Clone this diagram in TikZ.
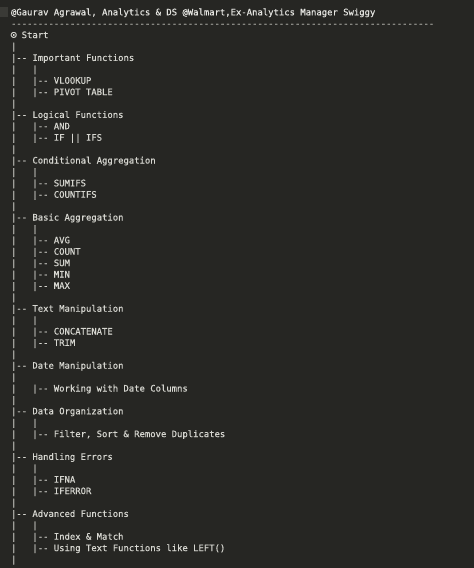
\documentclass[tikz,border=0pt]{standalone}
\usepackage{fontspec}
\setmonofont{DejaVu Sans Mono}[FakeBold=0.4]
\definecolor{bg}{HTML}{262623}
\definecolor{gutter}{HTML}{3A3A36}
\definecolor{txt}{HTML}{D6D6D0}
\definecolor{hdr}{HTML}{E4E4E0}
\definecolor{dash}{HTML}{B0B0AA}
\tikzset{
  tt/.style={anchor=base west, inner sep=0pt, outer sep=0pt, text=txt,
    font=\ttfamily\fontsize{8.9}{11}\selectfont},
}
\newcommand\tl[3]{\node[tt] (r#1c#2) at ({11+#2*5.35},{12+(#1-1)*11.4+3.3}) {#3};}
\begin{document}
\begin{tikzpicture}[x=1pt,y=-1pt]
\fill[bg] (0,0) rectangle (474,568);
\useasboundingbox (0,0) rectangle (474,568);
\fill[gutter] (0,7) rectangle (7.5,17);
\node[tt,text=hdr] (r1c0) at (11,{12+3.3}) {@Gaurav Agrawal, Analytics \& DS @Walmart,Ex-Analytics Manager Swiggy};
\node[tt,text=dash] (r2c0) at (11,{23.4+3.3}) {-------------------------------------------------------------------------------};
\node[tt,font=\ttfamily\fontsize{11}{11}\selectfont] (r3sym) at (10.4,{12+2*11.4+3.6}) {⊙};
\tl{3}{2}{Start}
\tl{4}{0}{|}
\tl{5}{0}{|-- Important Functions}
\tl{6}{0}{|}\tl{6}{4}{|}
\tl{7}{0}{|}\tl{7}{4}{|-- VLOOKUP}
\tl{8}{0}{|}\tl{8}{4}{|-- PIVOT TABLE}
\tl{9}{0}{|}
\tl{10}{0}{|-- Logical Functions}
\tl{11}{0}{|}\tl{11}{4}{|-- AND}
\tl{12}{0}{|}\tl{12}{4}{|-- IF || IFS}
\tl{13}{0}{|}
\tl{14}{0}{|-- Conditional Aggregation}
\tl{15}{0}{|}\tl{15}{4}{|}
\tl{16}{0}{|}\tl{16}{4}{|-- SUMIFS}
\tl{17}{0}{|}\tl{17}{4}{|-- COUNTIFS}
\tl{18}{0}{|}
\tl{19}{0}{|-- Basic Aggregation}
\tl{20}{0}{|}\tl{20}{4}{|}
\tl{21}{0}{|}\tl{21}{4}{|-- AVG}
\tl{22}{0}{|}\tl{22}{4}{|-- COUNT}
\tl{23}{0}{|}\tl{23}{4}{|-- SUM}
\tl{24}{0}{|}\tl{24}{4}{|-- MIN}
\tl{25}{0}{|}\tl{25}{4}{|-- MAX}
\tl{26}{0}{|}
\tl{27}{0}{|-- Text Manipulation}
\tl{28}{0}{|}\tl{28}{4}{|}
\tl{29}{0}{|}\tl{29}{4}{|-- CONCATENATE}
\tl{30}{0}{|}\tl{30}{4}{|-- TRIM}
\tl{31}{0}{|}
\tl{32}{0}{|-- Date Manipulation}
\tl{33}{0}{|}
\tl{34}{0}{|}\tl{34}{4}{|-- Working with Date Columns}
\tl{35}{0}{|}
\tl{36}{0}{|-- Data Organization}
\tl{37}{0}{|}\tl{37}{4}{|}
\tl{38}{0}{|}\tl{38}{4}{|-- Filter, Sort \& Remove Duplicates}
\tl{39}{0}{|}
\tl{40}{0}{|-- Handling Errors}
\tl{41}{0}{|}\tl{41}{4}{|}
\tl{42}{0}{|}\tl{42}{4}{|-- IFNA}
\tl{43}{0}{|}\tl{43}{4}{|-- IFERROR}
\tl{44}{0}{|}
\tl{45}{0}{|-- Advanced Functions}
\tl{46}{0}{|}\tl{46}{4}{|}
\tl{47}{0}{|}\tl{47}{4}{|-- Index \& Match}
\tl{48}{0}{|}\tl{48}{4}{|-- Using Text Functions like LEFT()}
\tl{49}{0}{|}
\end{tikzpicture}
\end{document}
